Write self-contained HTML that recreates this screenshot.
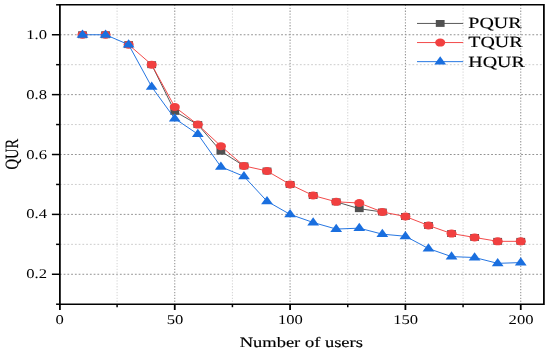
<!DOCTYPE html><html><head><meta charset="utf-8"><title>QUR vs Number of users</title>
<style>html,body{margin:0;padding:0;background:#fff}svg{display:block}text{font-family:"Liberation Serif",serif;text-rendering:geometricPrecision;fill:#000;stroke:#000;stroke-width:0.15px}</style></head><body>
<svg width="550" height="352" viewBox="0 0 550 352">
<rect width="550" height="352" fill="#fff"/>
<g><line x1="59.90" x2="543.90" y1="274.27" y2="274.27" stroke="#929292" stroke-width="1" stroke-dasharray="1.8 1.95"/><line x1="59.90" x2="543.90" y1="214.39" y2="214.39" stroke="#929292" stroke-width="1" stroke-dasharray="1.8 1.95"/><line x1="59.90" x2="543.90" y1="154.51" y2="154.51" stroke="#929292" stroke-width="1" stroke-dasharray="1.8 1.95"/><line x1="59.90" x2="543.90" y1="94.63" y2="94.63" stroke="#929292" stroke-width="1" stroke-dasharray="1.8 1.95"/><line x1="59.90" x2="543.90" y1="34.75" y2="34.75" stroke="#929292" stroke-width="1" stroke-dasharray="1.8 1.95"/><line x1="59.90" x2="543.90" y1="244.33" y2="244.33" stroke="#cccccc" stroke-width="1" stroke-dasharray="1.8 1.95"/><line x1="59.90" x2="543.90" y1="184.45" y2="184.45" stroke="#cccccc" stroke-width="1" stroke-dasharray="1.8 1.95"/><line x1="59.90" x2="543.90" y1="124.57" y2="124.57" stroke="#cccccc" stroke-width="1" stroke-dasharray="1.8 1.95"/><line x1="59.90" x2="543.90" y1="64.69" y2="64.69" stroke="#cccccc" stroke-width="1" stroke-dasharray="1.8 1.95"/><line x1="174.75" x2="174.75" y1="4.81" y2="304.21" stroke="#929292" stroke-width="1.05" stroke-dasharray="1.3 1.6"/><line x1="290.08" x2="290.08" y1="4.81" y2="304.21" stroke="#929292" stroke-width="1.05" stroke-dasharray="1.3 1.6"/><line x1="405.41" x2="405.41" y1="4.81" y2="304.21" stroke="#929292" stroke-width="1.05" stroke-dasharray="1.3 1.6"/><line x1="520.74" x2="520.74" y1="4.81" y2="304.21" stroke="#929292" stroke-width="1.05" stroke-dasharray="1.3 1.6"/><line x1="117.09" x2="117.09" y1="4.81" y2="304.21" stroke="#d6d6d6" stroke-width="1.05" stroke-dasharray="1.3 1.6"/><line x1="232.42" x2="232.42" y1="4.81" y2="304.21" stroke="#d6d6d6" stroke-width="1.05" stroke-dasharray="1.3 1.6"/><line x1="347.75" x2="347.75" y1="4.81" y2="304.21" stroke="#d6d6d6" stroke-width="1.05" stroke-dasharray="1.3 1.6"/><line x1="463.07" x2="463.07" y1="4.81" y2="304.21" stroke="#d6d6d6" stroke-width="1.05" stroke-dasharray="1.3 1.6"/></g>
<path d="M151.68,64.69L174.75,111.40L197.82,124.57L220.88,151.22L243.95,165.89M336.21,201.82L359.28,208.70L382.34,211.99" fill="none" stroke="#515151" stroke-width="0.95" stroke-linejoin="round"/><rect x="78.09" y="31.30" width="8.8" height="6.9" fill="#515151"/><rect x="101.15" y="31.30" width="8.8" height="6.9" fill="#515151"/><rect x="124.22" y="41.18" width="8.8" height="6.9" fill="#515151"/><rect x="147.28" y="61.24" width="8.8" height="6.9" fill="#515151"/><rect x="170.35" y="107.95" width="8.8" height="6.9" fill="#515151"/><rect x="193.42" y="121.12" width="8.8" height="6.9" fill="#515151"/><rect x="216.48" y="147.77" width="8.8" height="6.9" fill="#515151"/><rect x="239.55" y="162.44" width="8.8" height="6.9" fill="#515151"/><rect x="262.61" y="167.53" width="8.8" height="6.9" fill="#515151"/><rect x="285.68" y="181.00" width="8.8" height="6.9" fill="#515151"/><rect x="308.75" y="192.08" width="8.8" height="6.9" fill="#515151"/><rect x="331.81" y="198.37" width="8.8" height="6.9" fill="#515151"/><rect x="354.88" y="205.25" width="8.8" height="6.9" fill="#515151"/><rect x="377.94" y="208.54" width="8.8" height="6.9" fill="#515151"/><rect x="401.01" y="213.04" width="8.8" height="6.9" fill="#515151"/><rect x="424.08" y="222.02" width="8.8" height="6.9" fill="#515151"/><rect x="447.14" y="230.10" width="8.8" height="6.9" fill="#515151"/><rect x="470.21" y="233.99" width="8.8" height="6.9" fill="#515151"/><rect x="493.27" y="237.89" width="8.8" height="6.9" fill="#515151"/><rect x="516.34" y="237.89" width="8.8" height="6.9" fill="#515151"/>
<path d="M128.62,44.63L151.68,64.69L174.75,106.91L197.82,124.57L220.88,146.13L243.95,165.89L267.01,170.98L290.08,184.45L313.15,195.53L336.21,201.82L359.28,203.01L382.34,211.99L405.41,216.49L428.48,225.47L451.54,233.55L474.61,237.44L497.67,241.34L520.74,241.34" fill="none" stroke="#F14040" stroke-width="0.95" stroke-linejoin="round"/><ellipse cx="82.49" cy="34.75" rx="5.05" ry="4.0" fill="#F14040"/><ellipse cx="105.55" cy="34.75" rx="5.05" ry="4.0" fill="#F14040"/><ellipse cx="128.62" cy="44.63" rx="5.05" ry="4.0" fill="#F14040"/><ellipse cx="151.68" cy="64.69" rx="5.05" ry="4.0" fill="#F14040"/><ellipse cx="174.75" cy="106.91" rx="5.05" ry="4.0" fill="#F14040"/><ellipse cx="197.82" cy="124.57" rx="5.05" ry="4.0" fill="#F14040"/><ellipse cx="220.88" cy="146.13" rx="5.05" ry="4.0" fill="#F14040"/><ellipse cx="243.95" cy="165.89" rx="5.05" ry="4.0" fill="#F14040"/><ellipse cx="267.01" cy="170.98" rx="5.05" ry="4.0" fill="#F14040"/><ellipse cx="290.08" cy="184.45" rx="5.05" ry="4.0" fill="#F14040"/><ellipse cx="313.15" cy="195.53" rx="5.05" ry="4.0" fill="#F14040"/><ellipse cx="336.21" cy="201.82" rx="5.05" ry="4.0" fill="#F14040"/><ellipse cx="359.28" cy="203.01" rx="5.05" ry="4.0" fill="#F14040"/><ellipse cx="382.34" cy="211.99" rx="5.05" ry="4.0" fill="#F14040"/><ellipse cx="405.41" cy="216.49" rx="5.05" ry="4.0" fill="#F14040"/><ellipse cx="428.48" cy="225.47" rx="5.05" ry="4.0" fill="#F14040"/><ellipse cx="451.54" cy="233.55" rx="5.05" ry="4.0" fill="#F14040"/><ellipse cx="474.61" cy="237.44" rx="5.05" ry="4.0" fill="#F14040"/><ellipse cx="497.67" cy="241.34" rx="5.05" ry="4.0" fill="#F14040"/><ellipse cx="520.74" cy="241.34" rx="5.05" ry="4.0" fill="#F14040"/>
<path d="M82.49,34.75L105.55,34.75L128.62,44.63L151.68,86.85L174.75,118.58L197.82,134.15L220.88,166.79L243.95,176.37L267.01,201.22L290.08,214.39L313.15,222.47L336.21,229.06L359.28,228.16L382.34,234.15L405.41,236.25L428.48,248.52L451.54,256.61L474.61,257.50L497.67,263.34L520.74,262.59" fill="none" stroke="#1A6FDF" stroke-width="0.95" stroke-linejoin="round"/><polygon points="82.49,29.45 76.59,37.70 88.39,37.70" fill="#1A6FDF"/><polygon points="105.55,29.45 99.65,37.70 111.45,37.70" fill="#1A6FDF"/><polygon points="128.62,39.33 122.72,47.58 134.52,47.58" fill="#1A6FDF"/><polygon points="151.68,81.55 145.78,89.80 157.58,89.80" fill="#1A6FDF"/><polygon points="174.75,113.28 168.85,121.53 180.65,121.53" fill="#1A6FDF"/><polygon points="197.82,128.85 191.92,137.10 203.72,137.10" fill="#1A6FDF"/><polygon points="220.88,161.49 214.98,169.74 226.78,169.74" fill="#1A6FDF"/><polygon points="243.95,171.07 238.05,179.32 249.85,179.32" fill="#1A6FDF"/><polygon points="267.01,195.92 261.11,204.17 272.91,204.17" fill="#1A6FDF"/><polygon points="290.08,209.09 284.18,217.34 295.98,217.34" fill="#1A6FDF"/><polygon points="313.15,217.17 307.25,225.42 319.05,225.42" fill="#1A6FDF"/><polygon points="336.21,223.76 330.31,232.01 342.11,232.01" fill="#1A6FDF"/><polygon points="359.28,222.86 353.38,231.11 365.18,231.11" fill="#1A6FDF"/><polygon points="382.34,228.85 376.44,237.10 388.24,237.10" fill="#1A6FDF"/><polygon points="405.41,230.95 399.51,239.20 411.31,239.20" fill="#1A6FDF"/><polygon points="428.48,243.22 422.58,251.47 434.38,251.47" fill="#1A6FDF"/><polygon points="451.54,251.31 445.64,259.56 457.44,259.56" fill="#1A6FDF"/><polygon points="474.61,252.20 468.71,260.45 480.51,260.45" fill="#1A6FDF"/><polygon points="497.67,258.04 491.77,266.29 503.57,266.29" fill="#1A6FDF"/><polygon points="520.74,257.29 514.84,265.54 526.64,265.54" fill="#1A6FDF"/>
<path d="M59.90,4.01V305.01M543.90,4.01V305.01" fill="none" stroke="#000" stroke-width="1.75"/>
<path d="M59.90,4.81H543.90M59.90,304.21H543.90" fill="none" stroke="#000" stroke-width="1.6"/>
<g><line x1="51.90" x2="59.90" y1="274.27" y2="274.27" stroke="#000" stroke-width="1.5"/><line x1="51.90" x2="59.90" y1="214.39" y2="214.39" stroke="#000" stroke-width="1.5"/><line x1="51.90" x2="59.90" y1="154.51" y2="154.51" stroke="#000" stroke-width="1.5"/><line x1="51.90" x2="59.90" y1="94.63" y2="94.63" stroke="#000" stroke-width="1.5"/><line x1="51.90" x2="59.90" y1="34.75" y2="34.75" stroke="#000" stroke-width="1.5"/><line x1="56.10" x2="59.90" y1="304.21" y2="304.21" stroke="#000" stroke-width="1.5"/><line x1="56.10" x2="59.90" y1="244.33" y2="244.33" stroke="#000" stroke-width="1.5"/><line x1="56.10" x2="59.90" y1="184.45" y2="184.45" stroke="#000" stroke-width="1.5"/><line x1="56.10" x2="59.90" y1="124.57" y2="124.57" stroke="#000" stroke-width="1.5"/><line x1="56.10" x2="59.90" y1="64.69" y2="64.69" stroke="#000" stroke-width="1.5"/><line x1="56.10" x2="59.90" y1="4.81" y2="4.81" stroke="#000" stroke-width="1.5"/><line x1="59.90" x2="59.90" y1="304.21" y2="310.01" stroke="#000" stroke-width="1.8"/><line x1="174.75" x2="174.75" y1="304.21" y2="310.01" stroke="#000" stroke-width="1.8"/><line x1="290.08" x2="290.08" y1="304.21" y2="310.01" stroke="#000" stroke-width="1.8"/><line x1="405.41" x2="405.41" y1="304.21" y2="310.01" stroke="#000" stroke-width="1.8"/><line x1="520.74" x2="520.74" y1="304.21" y2="310.01" stroke="#000" stroke-width="1.8"/><line x1="117.09" x2="117.09" y1="304.21" y2="307.21" stroke="#000" stroke-width="1.5"/><line x1="232.42" x2="232.42" y1="304.21" y2="307.21" stroke="#000" stroke-width="1.5"/><line x1="347.75" x2="347.75" y1="304.21" y2="307.21" stroke="#000" stroke-width="1.5"/><line x1="463.07" x2="463.07" y1="304.21" y2="307.21" stroke="#000" stroke-width="1.5"/></g>
<text transform="translate(47.0,278.27) scale(1.24,1)" font-size="13.4" style="stroke:none" text-anchor="end">0.2</text>
<text transform="translate(47.0,218.39) scale(1.24,1)" font-size="13.4" style="stroke:none" text-anchor="end">0.4</text>
<text transform="translate(47.0,158.51) scale(1.24,1)" font-size="13.4" style="stroke:none" text-anchor="end">0.6</text>
<text transform="translate(47.0,98.63) scale(1.24,1)" font-size="13.4" style="stroke:none" text-anchor="end">0.8</text>
<text transform="translate(47.0,38.75) scale(1.24,1)" font-size="13.4" style="stroke:none" text-anchor="end">1.0</text>
<text transform="translate(59.72,323.8) scale(1.24,1)" font-size="13.4" style="stroke:none" text-anchor="middle">0</text>
<text transform="translate(175.05,323.8) scale(1.24,1)" font-size="13.4" style="stroke:none" text-anchor="middle">50</text>
<text transform="translate(290.38,323.8) scale(1.24,1)" font-size="13.4" style="stroke:none" text-anchor="middle">100</text>
<text transform="translate(405.71,323.8) scale(1.24,1)" font-size="13.4" style="stroke:none" text-anchor="middle">150</text>
<text transform="translate(521.04,323.8) scale(1.24,1)" font-size="13.4" style="stroke:none" text-anchor="middle">200</text>
<text transform="translate(301.3,347.1) scale(1.285,1)" font-size="14.4" text-anchor="middle">Number of users</text>
<text transform="translate(17.9,154.2) scale(1.285,1) rotate(-90)" font-size="14.6" text-anchor="middle">QUR</text>
<line x1="417" x2="463.2" y1="23.45" y2="23.45" stroke="#515151" stroke-width="0.95"/>
<rect x="435.80" y="20.00" width="8.8" height="6.9" fill="#515151"/>
<text transform="translate(468.3,28.20) scale(1.285,1)" font-size="15.5">PQUR</text>
<line x1="417" x2="463.2" y1="42.55" y2="42.55" stroke="#F14040" stroke-width="0.95"/>
<ellipse cx="440.20" cy="42.55" rx="5.05" ry="4.0" fill="#F14040"/>
<text transform="translate(468.3,47.40) scale(1.285,1)" font-size="15.5">TQUR</text>
<line x1="417" x2="463.2" y1="61.65" y2="61.65" stroke="#1A6FDF" stroke-width="0.95"/>
<polygon points="440.20,56.35 434.30,64.60 446.10,64.60" fill="#1A6FDF"/>
<text transform="translate(468.3,66.60) scale(1.285,1)" font-size="15.5">HQUR</text>
</svg></body></html>
